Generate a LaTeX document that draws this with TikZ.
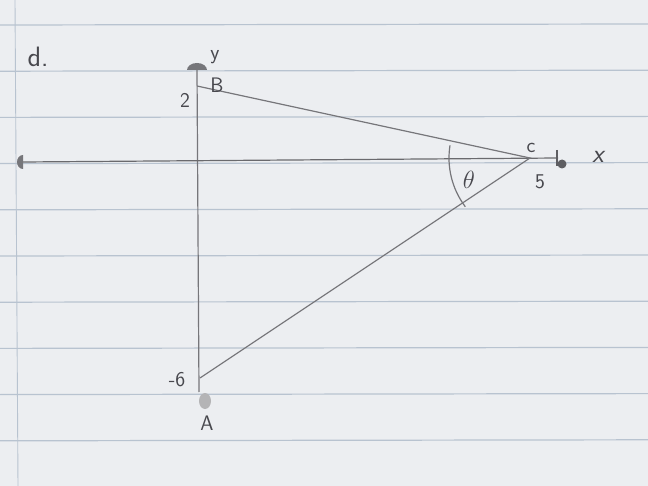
\documentclass[tikz,border=0pt]{standalone}
\usepackage{fontspec}
\usepackage{tikz}
\usetikzlibrary{calc}
\definecolor{paper}{RGB}{236,238,241}
\definecolor{ruling}{RGB}{184,195,208}
\definecolor{pencil}{RGB}{118,118,122}
\definecolor{ink}{RGB}{72,72,78}

\begin{document}
\begin{tikzpicture}[x=1pt,y=-1pt,line width=1.2pt,
  lab/.style={text=ink,font=\sffamily\fontsize{21}{21}\selectfont,inner sep=1pt}]
\fill[paper] (0,0) rectangle (648,486);
\useasboundingbox (0,0) rectangle (648,486);

%lignes du papier
\foreach \k in {0,...,9}
{\draw[ruling,line width=1.2pt] (0,25+\k*46.2)--(648,24+\k*46.2);}
\draw[ruling,line width=0.9pt] (15,0)--(18,486);

%points du triangle
\coordinate(B) at (197,86);
\coordinate(C) at (530,158);
\coordinate(A) at (200,378);
\coordinate(ytop) at (197,70);
\coordinate(ybot) at (199,392);
\coordinate(xl) at (23,162);
\coordinate(xr) at (558,158);

%axes
\draw [pencil](ytop)--(ybot);
\draw [pencil!90!black](xl)--(xr);
\fill[pencil] ($(ytop)+(-10,0)$) arc (180:360:10 and 7)--cycle;
\fill[pencil] ($(xl)+(0,-7)$) arc (270:90:6 and 7)--cycle;
\fill[pencil!55] (205,401) circle (6 and 8);
\draw[pencil!80!black,line width=1.8pt] (557,150)--(557,166);
\fill[pencil!80!black] (562,164) circle (4.5);

%triangle
\draw [pencil](B)--(C)--(A);
% angle theta en C
\draw [pencil](C) ++(189:81) arc (189:143:81);

\node[lab,font=\sffamily\fontsize{28}{28}\selectfont] (d) at (38,57) {d.};
\node[lab] (ylab) at (215,57) {y};
\node[lab] (Blab) at (217,85) {B};
\node[lab] (two) at (185,100) {2};
\node[lab] (Clab) at (531,148) {c};
\node[lab] (five) at (540,182) {5};
\node[lab,font=\sffamily\itshape\fontsize{26}{26}\selectfont] (xlab) at (598,157) {x};
\node[lab,font=\fontsize{24}{24}\selectfont] (theta) at (469,180) {$\theta$};
\node[lab] (msix) at (177,380) {-6};
\node[lab] (Alab) at (207,423) {A};
\end{tikzpicture}
\end{document}
